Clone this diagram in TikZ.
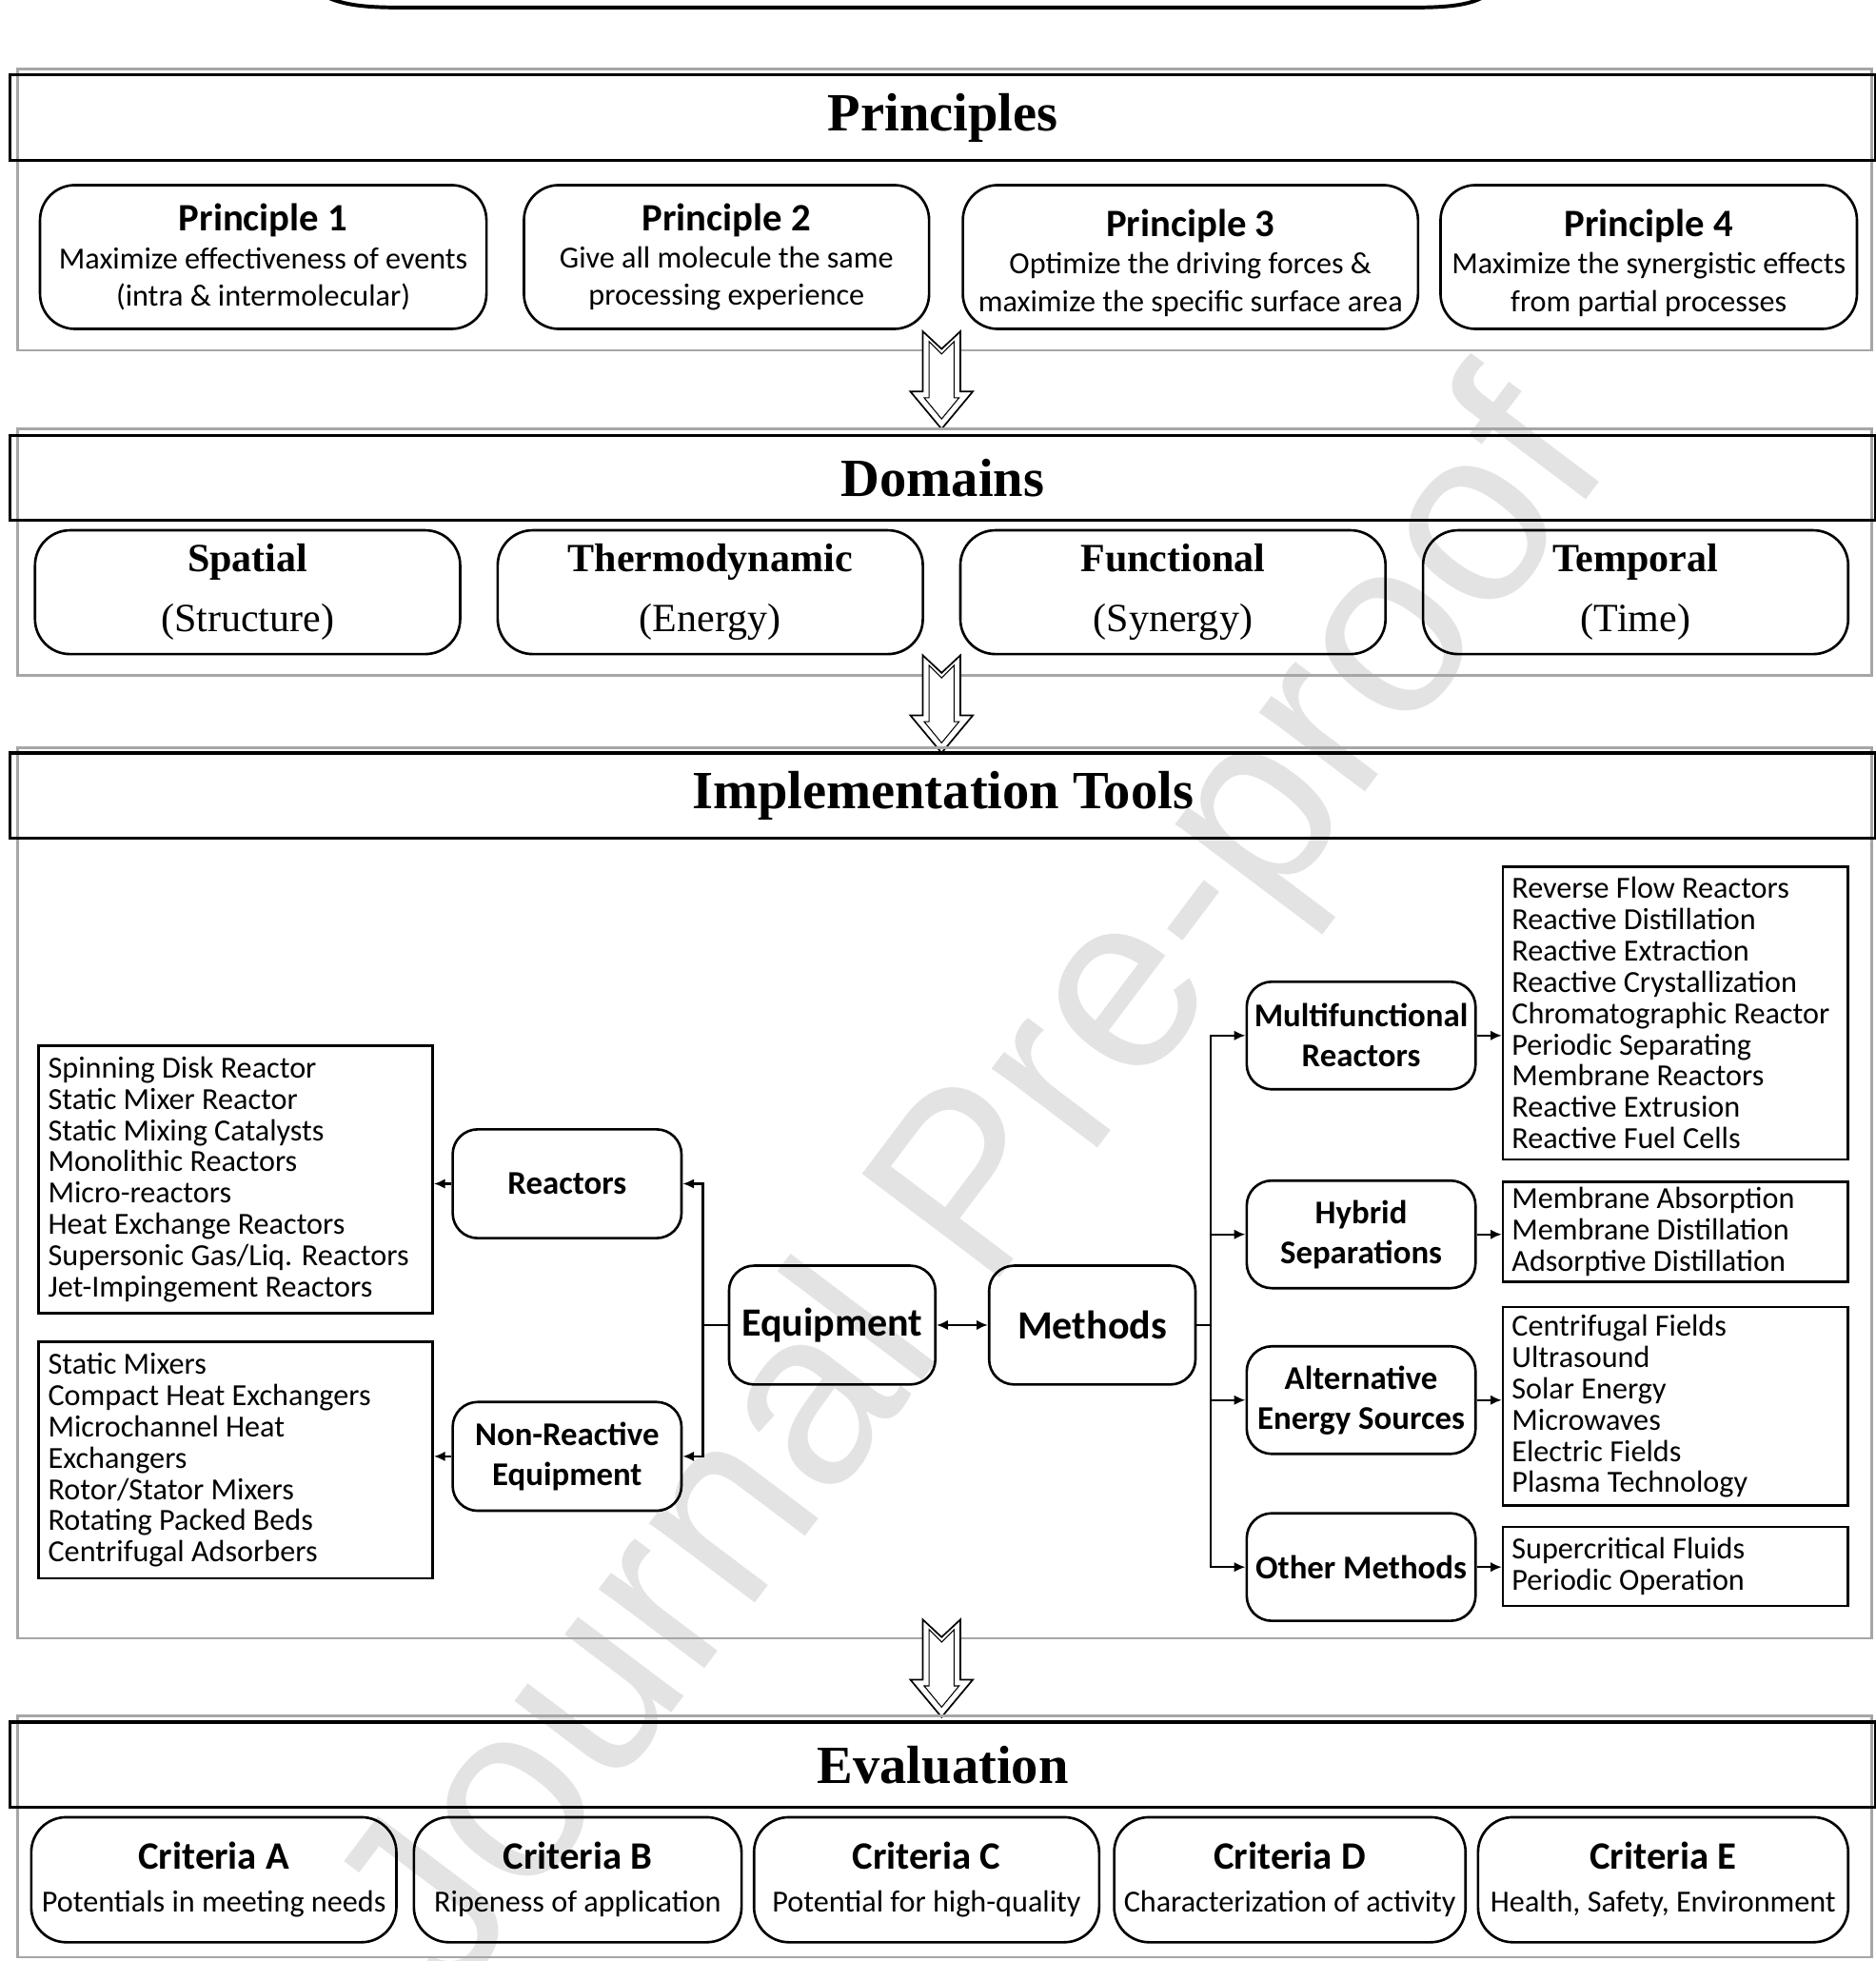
\documentclass[tikz,border=0pt]{standalone}
\usepackage{fontspec}
\setmainfont{Liberation Serif}
\newfontfamily\carl{Carlito}
\newfontfamily\wmf{Liberation Sans}
\usetikzlibrary{arrows.meta}
\begin{document}
\begin{tikzpicture}[x=1pt,y=1pt,
 outer/.style={draw=black!35,line width=2},
 hdr/.style={draw,line width=2.5,minimum width=1492,minimum height=68,inner sep=0,font=\fontsize{43}{46}\selectfont\bfseries},
 rb/.style={draw,line width=2,rounded corners=28,inner sep=0,align=center},
 pb/.style={rb,minimum height=115,font=\carl\fontsize{24.5}{30}\selectfont},
 db/.style={rb,minimum width=340,minimum height=99,font=\fontsize{32}{48}\selectfont},
 cb/.style={rb,minimum height=100,font=\carl\fontsize{24.5}{34}\selectfont},
 tb/.style={rb,rounded corners=20,minimum width=183,minimum height=87,font=\carl\bfseries\fontsize{26.5}{32}\selectfont},
 lst/.style={draw,line width=2,anchor=north west,align=left,inner sep=0,font=\carl\fontsize{24.5}{25}\selectfont},
 ar/.style={line width=1.8,-{Latex[length=9,width=8]}},
 harrow/.pic={\draw[line width=1.3,fill=white] (-15,0) -- (0,-14) -- (15,0) -- (15,-48) -- (25,-48) -- (0,-78) -- (-25,-48) -- (-15,-48) -- cycle;
   \draw[line width=0.8] (-10,-8) -- (0,-18) -- (10,-8) -- (10,-53) -- (14,-53) -- (0,-70) -- (-14,-53) -- (-10,-53) -- cycle;}]
\useasboundingbox (0,0) rectangle (1500,-1568);
% watermark
\node[rotate=53,text=black!11,font=\wmf\fontsize{200}{200}\selectfont] (wm) at (785,-955) {Journal Pre-proof};
% top partial shape
\draw[line width=3] (250,10) .. controls (265,-4) and (290,-6) .. (320,-6) -- (1130,-6) .. controls (1160,-6) and (1185,-4) .. (1195,10);
% Principles
\draw[outer] (14,-55) rectangle (1497,-280);
\node[hdr] (h1) at (754,-94) {Principles};
\node[pb,minimum width=357] (p1) at (210.5,-205.5) {{\bfseries\fontsize{31}{32}\selectfont Principle 1}\\Maximize effectiveness of events\\(intra \& intermolecular)};
\node[pb,minimum width=324] (p2) at (581,-205.5) {{\bfseries\fontsize{31}{32}\selectfont Principle 2}\\Give all molecule the same\\processing experience};
\node[pb,draw=none,minimum width=364] (p3) at (952,-210) {{\bfseries\fontsize{31}{32}\selectfont Principle 3}\\Optimize the driving forces \&\\maximize the specific surface area};
\node[pb,draw=none,minimum width=333] (p4) at (1318.5,-210) {{\bfseries\fontsize{31}{32}\selectfont Principle 4}\\Maximize the synergistic effects\\from partial processes};
\draw[line width=2,rounded corners=28] (770,-148) rectangle (1134,-263);
\draw[line width=2,rounded corners=28] (1152,-148) rectangle (1485,-263);
\pic at (753,-265) {harrow};
% Domains
\draw[outer] (14,-343) rectangle (1497,-540);
\node[hdr] (h2) at (754,-382) {Domains};
\node[db] (d1) at (198,-473.5) {\bfseries Spatial\\(Structure)};
\node[db] (d2) at (568,-473.5) {\bfseries Thermodynamic\\(Energy)};
\node[db] (d3) at (938,-473.5) {\bfseries Functional\\(Synergy)};
\node[db] (d4) at (1308,-473.5) {\bfseries Temporal\\(Time)};
\pic at (753,-524) {harrow};
% Implementation tools
\draw[outer] (14,-598) rectangle (1497,-1310);
\node[hdr] (h3) at (754,-636) {Implementation Tools};
\node[tb,minimum width=165,minimum height=95,font=\carl\bfseries\fontsize{32}{32}\selectfont] (eq) at (665.5,-1059.5) {Equipment};
\node[tb,minimum width=165,minimum height=95,font=\carl\bfseries\fontsize{32}{32}\selectfont] (me) at (873.5,-1059.5) {Methods};
\node[tb] (re) at (453.5,-946.5) {Reactors};
\node[tb] (nr) at (453.5,-1164.5) {Non-Reactive\\Equipment};
\node[tb,minimum height=86] (mf) at (1088.5,-828) {Multifunctional\\Reactors};
\node[tb,minimum height=86] (hy) at (1088.5,-987) {Hybrid\\Separations};
\node[tb,minimum height=86] (al) at (1088.5,-1119.5) {Alternative\\Energy Sources};
\node[tb,minimum height=86] (ot) at (1088.5,-1253) {Other Methods};
\node[lst,minimum width=315,minimum height=214] (l1) at (30,-835) {\hspace*{5pt}\parbox{305pt}{Spinning Disk Reactor\\Static Mixer Reactor\\Static Mixing Catalysts\\Monolithic Reactors\\Micro-reactors\\Heat Exchange Reactors\\Supersonic Gas/Liq. Reactors\\Jet-Impingement Reactors}};
\node[lst,minimum width=315,minimum height=189] (l2) at (30,-1072) {\hspace*{5pt}\parbox{305pt}{Static Mixers\\Compact Heat Exchangers\\Microchannel Heat\\Exchangers\\Rotor/Stator Mixers\\Rotating Packed Beds\\Centrifugal Adsorbers}};
\node[lst,minimum width=276,minimum height=234] (r1) at (1201,-692) {\hspace*{6pt}\parbox{268pt}{Reverse Flow Reactors\\Reactive Distillation\\Reactive Extraction\\Reactive Crystallization\\Chromatographic Reactor\\Periodic Separating\\Membrane Reactors\\Reactive Extrusion\\Reactive Fuel Cells}};
\node[lst,minimum width=276,minimum height=80] (r2) at (1201,-944) {\hspace*{6pt}\parbox{268pt}{Membrane Absorption\\Membrane Distillation\\Adsorptive Distillation}};
\node[lst,minimum width=276,minimum height=159] (r3) at (1201,-1044) {\hspace*{6pt}\parbox{268pt}{Centrifugal Fields\\Ultrasound\\Solar Energy\\Microwaves\\Electric Fields\\Plasma Technology}};
\node[lst,minimum width=276,minimum height=63] (r4) at (1201,-1220) {\hspace*{6pt}\parbox{268pt}{Supercritical Fluids\\Periodic Operation}};
\coordinate (jl) at (562,-1059.5);
\coordinate (jr) at (968,-1059.5);
\draw[line width=1.8] (eq.west) -- (jl);
\draw[ar] (jl) |- (re.east);
\draw[ar] (jl) |- (nr.east);
\draw[line width=1.8,{Latex[length=9,width=8]}-{Latex[length=9,width=8]}] (eq.east) -- (me.west);
\draw[line width=1.8] (me.east) -- (jr);
\draw[ar] (jr) |- (mf.west);
\draw[ar] (jr) |- (hy.west);
\draw[ar] (jr) |- (al.west);
\draw[ar] (jr) |- (ot.west);
\draw[ar] (re.west) -- (re.west-|l1.east);
\draw[ar] (nr.west) -- (nr.west-|l2.east);
\draw[ar] (mf.east) -- (mf.east-|r1.west);
\draw[ar] (hy.east) -- (hy.east-|r2.west);
\draw[ar] (al.east) -- (al.east-|r3.west);
\draw[ar] (ot.east) -- (ot.east-|r4.west);
\pic at (753,-1295) {harrow};
% Evaluation
\draw[outer] (14,-1372) rectangle (1497,-1565);
\node[hdr] (h4) at (754,-1411) {Evaluation};
\node[cb,minimum width=292] (c1) at (171,-1503) {{\bfseries\fontsize{31}{32}\selectfont Criteria A}\\Potentials in meeting needs};
\node[cb,minimum width=262] (c2) at (462,-1503) {{\bfseries\fontsize{31}{32}\selectfont Criteria B}\\Ripeness of application};
\node[cb,minimum width=276] (c3) at (741,-1503) {{\bfseries\fontsize{31}{32}\selectfont Criteria C}\\Potential for high-quality};
\node[cb,minimum width=281] (c4) at (1031.5,-1503) {{\bfseries\fontsize{31}{32}\selectfont Criteria D}\\Characterization of activity};
\node[cb,minimum width=296] (c5) at (1330,-1503) {{\bfseries\fontsize{31}{32}\selectfont Criteria E}\\Health, Safety, Environment};
\end{tikzpicture}
\end{document}
